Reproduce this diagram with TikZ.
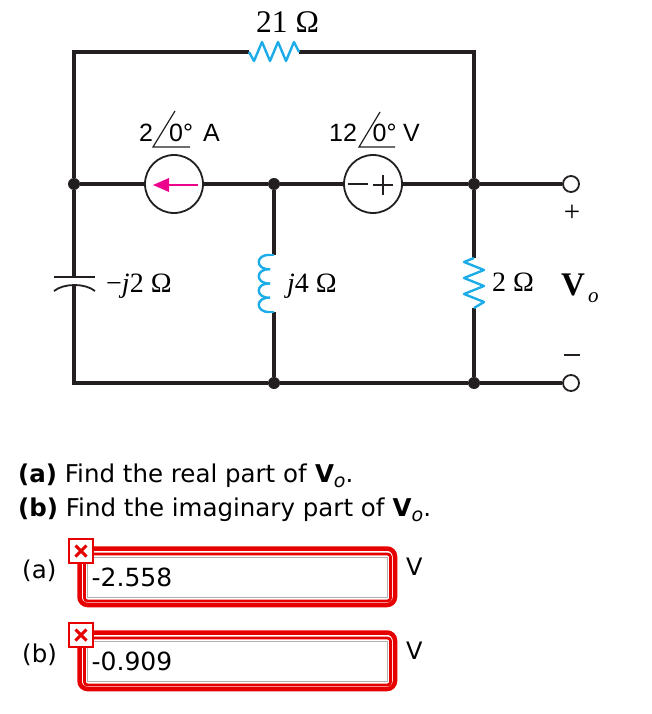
\documentclass[tikz,border=0pt]{standalone}
\usepackage{fontspec}
\usetikzlibrary{calc}
\setmainfont{DejaVu Sans}
\newfontfamily\sanslabel{Liberation Sans}
\newfontfamily\seriflabel{Liberation Serif}
\definecolor{inkblack}{HTML}{231F20}
\definecolor{partblue}{HTML}{1CADE8}
\definecolor{arrowpink}{HTML}{EC008C}
\definecolor{markred}{HTML}{E60000}
\tikzset{
	wire/.style={line width=3.8pt, color=inkblack},
	thinline/.style={line width=1.2pt, color=inkblack},
	part/.style={line width=2.4pt, color=partblue, line join=round},
	junction/.style={circle, fill=inkblack, inner sep=0pt, minimum size=12pt},
	terminal/.style={circle, draw=inkblack, fill=white, line width=1.8pt, inner sep=0pt, minimum size=16pt},
	source/.style={circle, draw=inkblack, fill=white, line width=1.8pt, inner sep=0pt, minimum size=58pt},
	txt/.style={inner sep=0pt, anchor=base west, text=black},
	xicon/.style={rectangle, draw=markred, fill=white, line width=1.6pt, inner sep=0pt, minimum size=24.5pt},
	xmark/.style={line width=3pt, color=markred},
	redouter/.style={line width=4.5pt, color=markred, rounded corners=8pt},
	redinner/.style={line width=2.8pt, color=markred, rounded corners=3pt},
	greybox/.style={line width=1pt, color=black!30}
}
\begin{document}
\begin{tikzpicture}[x=1pt, y=-1pt]
		%%%%% START %%%%%
		\useasboundingbox (0, 0) rectangle (652, 714);
		
		\node[junction] (nl) at (74, 184) {};
		\node[junction] (nm) at (274, 184) {};
		\node[junction] (nr) at (474, 184) {};
		\node[junction] (bm) at (274, 383) {};
		\node[junction] (br) at (474, 383) {};
		\node[terminal] (tp) at (571, 184) {};
		\node[terminal] (tm) at (571, 383) {};
		\node[source] (isrc) at (174, 184) {};
		\node[source] (vsrc) at (373, 184) {};
		
		\coordinate (tl) at (74, 52);
		\coordinate (tr) at (474, 52);
		\coordinate (bl) at (74, 383);
		\coordinate (ra) at (249, 52);
		\coordinate (rb) at (299, 52);
		\coordinate (rc) at (474, 258);
		\coordinate (rd) at (474, 308);
		\coordinate (la) at (274, 255);
		\coordinate (lb) at (274, 312);
		\coordinate (ca) at (74, 277);
		\coordinate (cb) at (74, 285);
		
		% wires
		\draw[wire] (ra) -- (tl) -- (nl) -- (isrc);
		\draw[wire] (rb) -- (tr) -- (nr) -- (rc);
		\draw[wire] (isrc) -- (nm) -- (vsrc);
		\draw[wire] (vsrc) -- (nr) -- (tp);
		\draw[wire] (nl) -- (ca);
		\draw[wire] (cb) -- (bl) -- (bm) -- (br) -- (tm);
		\draw[wire] (nm) -- (la);
		\draw[wire] (lb) -- (bm);
		\draw[wire] (rd) -- (br);
		
		% resistors
		\draw[part] (ra) -- ++(5, 9) -- ++(8, -19) -- ++(8, 19) -- ++(8, -19) -- ++(8, 19) -- ++(8, -19) -- (rb);
		\draw[part] (rc) -- ++(-10, 4) -- ++(20, 8) -- ++(-20, 8) -- ++(20, 8) -- ++(-20, 8) -- ++(20, 8) -- (rd);
		
		% inductor
		\draw[part] (la) -- (270, 255);
		\foreach \yb in {255, 269.25, 283.5, 297.75}
			\draw[part] (270, \yb) .. controls (255, {\yb-1}) and (255, {\yb+15}) .. (270, {\yb+14.25});
		\draw[part] (270, 312) -- (lb);
		
		% capacitor
		\draw[line width=1.8pt, color=inkblack] (54, 277) -- (95, 277);
		\draw[line width=1.8pt, color=inkblack] (54, 291) .. controls (64, 283) and (85, 283) .. (95, 291);
		
		% source insides
		\coordinate (ia) at (198, 185);
		\coordinate (ib) at (160, 185);
		\draw[line width=1.4pt, color=arrowpink] (ia) -- (ib);
		\fill[arrowpink] (153, 185) -- (169, 178) -- (169, 192) -- cycle;
		\draw[thinline] (348, 184) -- (368, 184);
		\draw[thinline] (373, 185) -- (393, 185);
		\draw[thinline] (383, 175) -- (383, 195);
		
		% source labels
		\node[txt] (lblia) at (139, 142) {\fontsize{25}{25}\sanslabel 2};
		\node[txt] (lblib) at (169, 142) {\fontsize{25}{25}\sanslabel 0°};
		\node[txt] (lblic) at (203, 142) {\fontsize{25}{25}\sanslabel A};
		\draw[thinline] (175, 111) -- (153, 147) -- (190, 147);
		\node[txt] (lblva) at (329, 142) {\fontsize{25}{25}\sanslabel 12};
		\node[txt] (lblvb) at (372.5, 142) {\fontsize{25}{25}\sanslabel 0°};
		\node[txt] (lblvc) at (403, 142) {\fontsize{25}{25}\sanslabel V};
		\draw[thinline] (380, 112) -- (359, 147) -- (395, 147);
		
		% part labels
		\node[txt] (lblr) at (256, 33) {\fontsize{31.5}{31.5}\seriflabel 21 Ω};
		\node[txt] (lblc) at (106, 292) {\fontsize{28}{28}\seriflabel −\textit{j}2 Ω};
		\node[txt] (lbll) at (287, 292) {\fontsize{28}{28}\seriflabel \textit{j}4 Ω};
		\node[txt] (lblrr) at (492, 291.5) {\fontsize{28}{28}\seriflabel 2 Ω};
		\node[txt] (lblv) at (561, 295) {\fontsize{33}{33}\seriflabel\bfseries V};
		\node[txt] (lblo) at (588, 302) {\fontsize{21}{21}\seriflabel\itshape o};
		\node[txt, anchor=center] (lblplus) at (572, 213) {\fontsize{29}{29}\seriflabel +};
		\draw[line width=1.4pt, color=inkblack] (564, 355) -- (580, 355);
		
		% question
		\node[txt] (qa) at (18, 482) {\fontsize{24.5}{24.5}\selectfont\textbf{(a)} Find the real part of \textbf{V}\raisebox{-5pt}{\fontsize{19}{19}\selectfont\textit{o}}.};
		\node[txt] (qb) at (18, 516) {\fontsize{24.5}{24.5}\selectfont\textbf{(b)} Find the imaginary part of \textbf{V}\raisebox{-5pt}{\fontsize{19}{19}\selectfont\textit{o}}.};
		
		% answer boxes
		\foreach \dy/\tag/\val in {0/a/-2.558, 84/b/-0.909} {
			\draw[redouter] (79.5, {548.5+\dy}) rectangle (395, {605+\dy});
			\draw[redinner] (84.5, {554+\dy}) rectangle (390.5, {601+\dy});
			\draw[greybox] (87.5, {557.5+\dy}) rectangle (387, {597.5+\dy});
			\node[txt] (ans\tag) at (91.5, {586+\dy}) {\fontsize{25}{25}\selectfont \val};
			\node[txt] (lbl\tag) at (22, {578.5+\dy}) {\fontsize{24.5}{24.5}\selectfont (\tag)};
			\node[txt] (unit\tag) at (406, {575+\dy}) {\fontsize{24}{24}\selectfont V};
			\node[xicon] (x\tag) at (81, {551+\dy}) {};
			\draw[xmark] ($(x\tag)+(-5.5,-5.5)$) -- ($(x\tag)+(5.5,5.5)$);
			\draw[xmark] ($(x\tag)+(-5.5,5.5)$) -- ($(x\tag)+(5.5,-5.5)$);
		}
		%%%%% END %%%%%
	\end{tikzpicture}
\end{document}
